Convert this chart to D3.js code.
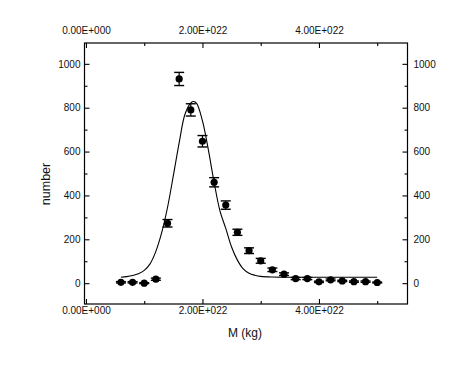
<!DOCTYPE html>
<html>
<head>
<meta charset="utf-8">
<script src="https://cdn.jsdelivr.net/npm/d3@7"></script>
<style>
  html, body { margin: 0; padding: 0; background: #fff; }
  svg { display: block; font-family: "Liberation Sans", Arial, sans-serif; }
</style>
</head>
<body>
<svg id="chart" width="474" height="366"></svg>
<script>
// ---- data (mass in units of 1e22 kg) ----
const massX = [0.6,0.8,1.0,1.2,1.4,1.6,1.8,2.0,2.2,2.4,2.6,2.8,3.0,3.2,3.4,3.6,3.8,4.0,4.2,4.4,4.6,4.8,5.0];
const counts = [4,4,0,18,273,931,790,647,460,356,232,148,102,61,41,21,21,6,15,10,7,7,3];
const errors = [3,3,2,5,17,30,28,26,21,19,14,13,11,8,6,5,5,3,4,3,3,3,2];

const fitX = [0.6,0.7,0.8,0.9,1.0,1.1,1.2,1.3,1.4,1.5,1.6,1.7,1.8,1.85,1.9,2.0,2.1,2.2,2.3,2.4,2.5,2.6,2.7,2.8,2.9,3.0,3.2,3.5,4.0,4.5,5.0];
const fitY = [27,30,35,43,58,88,145,230,345,490,640,770,822,828,820,740,610,460,330,250,165,105,65,45,36,31,28,27,27,27,27];

const xTicks = [0, 2, 4];
const xTickLabels = ["0.00E+000", "2.00E+022", "4.00E+022"];
const xMinor = [1, 3, 5];
const yTicks = [0, 200, 400, 600, 800, 1000];
const yMinor = [100, 300, 500, 700, 900];

const svg = d3.select("#chart");
const L = 84.5, R = 407.5, T = 43, B = 304;
const x = d3.scaleLinear().domain([-0.025, 5.52]).range([L, R]);
const y = d3.scaleLinear().domain([-95, 1095]).range([B, T]);

const fmt = v => xTickLabels[xTicks.indexOf(v)];

// axes with inward ticks
function styleAxis(g) {
  g.select(".domain").remove();
  g.selectAll("line").attr("stroke", "#000").attr("stroke-width", 1.1);
  g.selectAll("text").attr("font-size", 10).attr("fill", "#111")
    .style("font-family", '"Liberation Sans", Arial, sans-serif');
}

// bottom
svg.append("g").attr("transform", `translate(0,${B})`)
  .call(d3.axisTop(x).tickValues(xTicks).tickFormat(fmt).tickSize(5).tickPadding(-15))
  .call(styleAxis);
svg.append("g").attr("transform", `translate(0,${B})`)
  .call(d3.axisTop(x).tickValues(xMinor).tickFormat("").tickSize(3))
  .call(styleAxis);
// top
svg.append("g").attr("transform", `translate(0,${T})`)
  .call(d3.axisBottom(x).tickValues(xTicks).tickFormat(fmt).tickSize(5).tickPadding(-21))
  .call(styleAxis);
svg.append("g").attr("transform", `translate(0,${T})`)
  .call(d3.axisBottom(x).tickValues(xMinor).tickFormat("").tickSize(3))
  .call(styleAxis);
// left
svg.append("g").attr("transform", `translate(${L},0)`)
  .call(d3.axisRight(y).tickValues(yTicks).tickSize(5).tickPadding(-9).tickFormat(d3.format("d")))
  .call(styleAxis)
  .selectAll("text").attr("text-anchor", "end");
svg.append("g").attr("transform", `translate(${L},0)`)
  .call(d3.axisRight(y).tickValues(yMinor).tickFormat("").tickSize(3))
  .call(styleAxis);
// right
svg.append("g").attr("transform", `translate(${R},0)`)
  .call(d3.axisLeft(y).tickValues(yTicks).tickSize(5).tickPadding(-11).tickFormat(d3.format("d")))
  .call(styleAxis)
  .selectAll("text").attr("text-anchor", "start");
svg.append("g").attr("transform", `translate(${R},0)`)
  .call(d3.axisLeft(y).tickValues(yMinor).tickFormat("").tickSize(3))
  .call(styleAxis);

// frame
svg.append("rect").attr("x", L).attr("y", T).attr("width", R - L).attr("height", B - T)
  .attr("fill", "none").attr("stroke", "#000").attr("stroke-width", 1.2);

// fit curve
const fitData = fitX.map((v, i) => [v, fitY[i]]);
svg.append("path").datum(fitData)
  .attr("fill", "none").attr("stroke", "#000").attr("stroke-width", 1.1)
  .attr("d", d3.line().x(d => x(d[0])).y(d => y(d[1])).curve(d3.curveCatmullRom.alpha(0.5)));

// error bars + points
const pts = massX.map((v, i) => ({ m: v, c: counts[i], e: errors[i] }));
const g = svg.append("g");
const cap = 5;
pts.forEach(p => {
  const cx = x(p.m), y1 = y(p.c + p.e), y2 = y(p.c - p.e);
  g.append("line").attr("x1", cx).attr("x2", cx).attr("y1", y1).attr("y2", y2)
    .attr("stroke", "#000").attr("stroke-width", 1.2);
  g.append("line").attr("x1", cx - cap).attr("x2", cx + cap).attr("y1", y1).attr("y2", y1)
    .attr("stroke", "#000").attr("stroke-width", 1.4);
  g.append("line").attr("x1", cx - cap).attr("x2", cx + cap).attr("y1", y2).attr("y2", y2)
    .attr("stroke", "#000").attr("stroke-width", 1.4);
  g.append("circle").attr("cx", cx).attr("cy", y(p.c)).attr("r", 3.6).attr("fill", "#000");
});

// axis titles
svg.append("text").attr("x", 245).attr("y", 337).attr("text-anchor", "middle")
  .attr("font-size", 12).attr("fill", "#111").text("M (kg)");
svg.append("text").attr("transform", "translate(50,184) rotate(-90)")
  .attr("text-anchor", "middle").attr("font-size", 12.5).attr("fill", "#111").text("number");
</script>
</body>
</html>
